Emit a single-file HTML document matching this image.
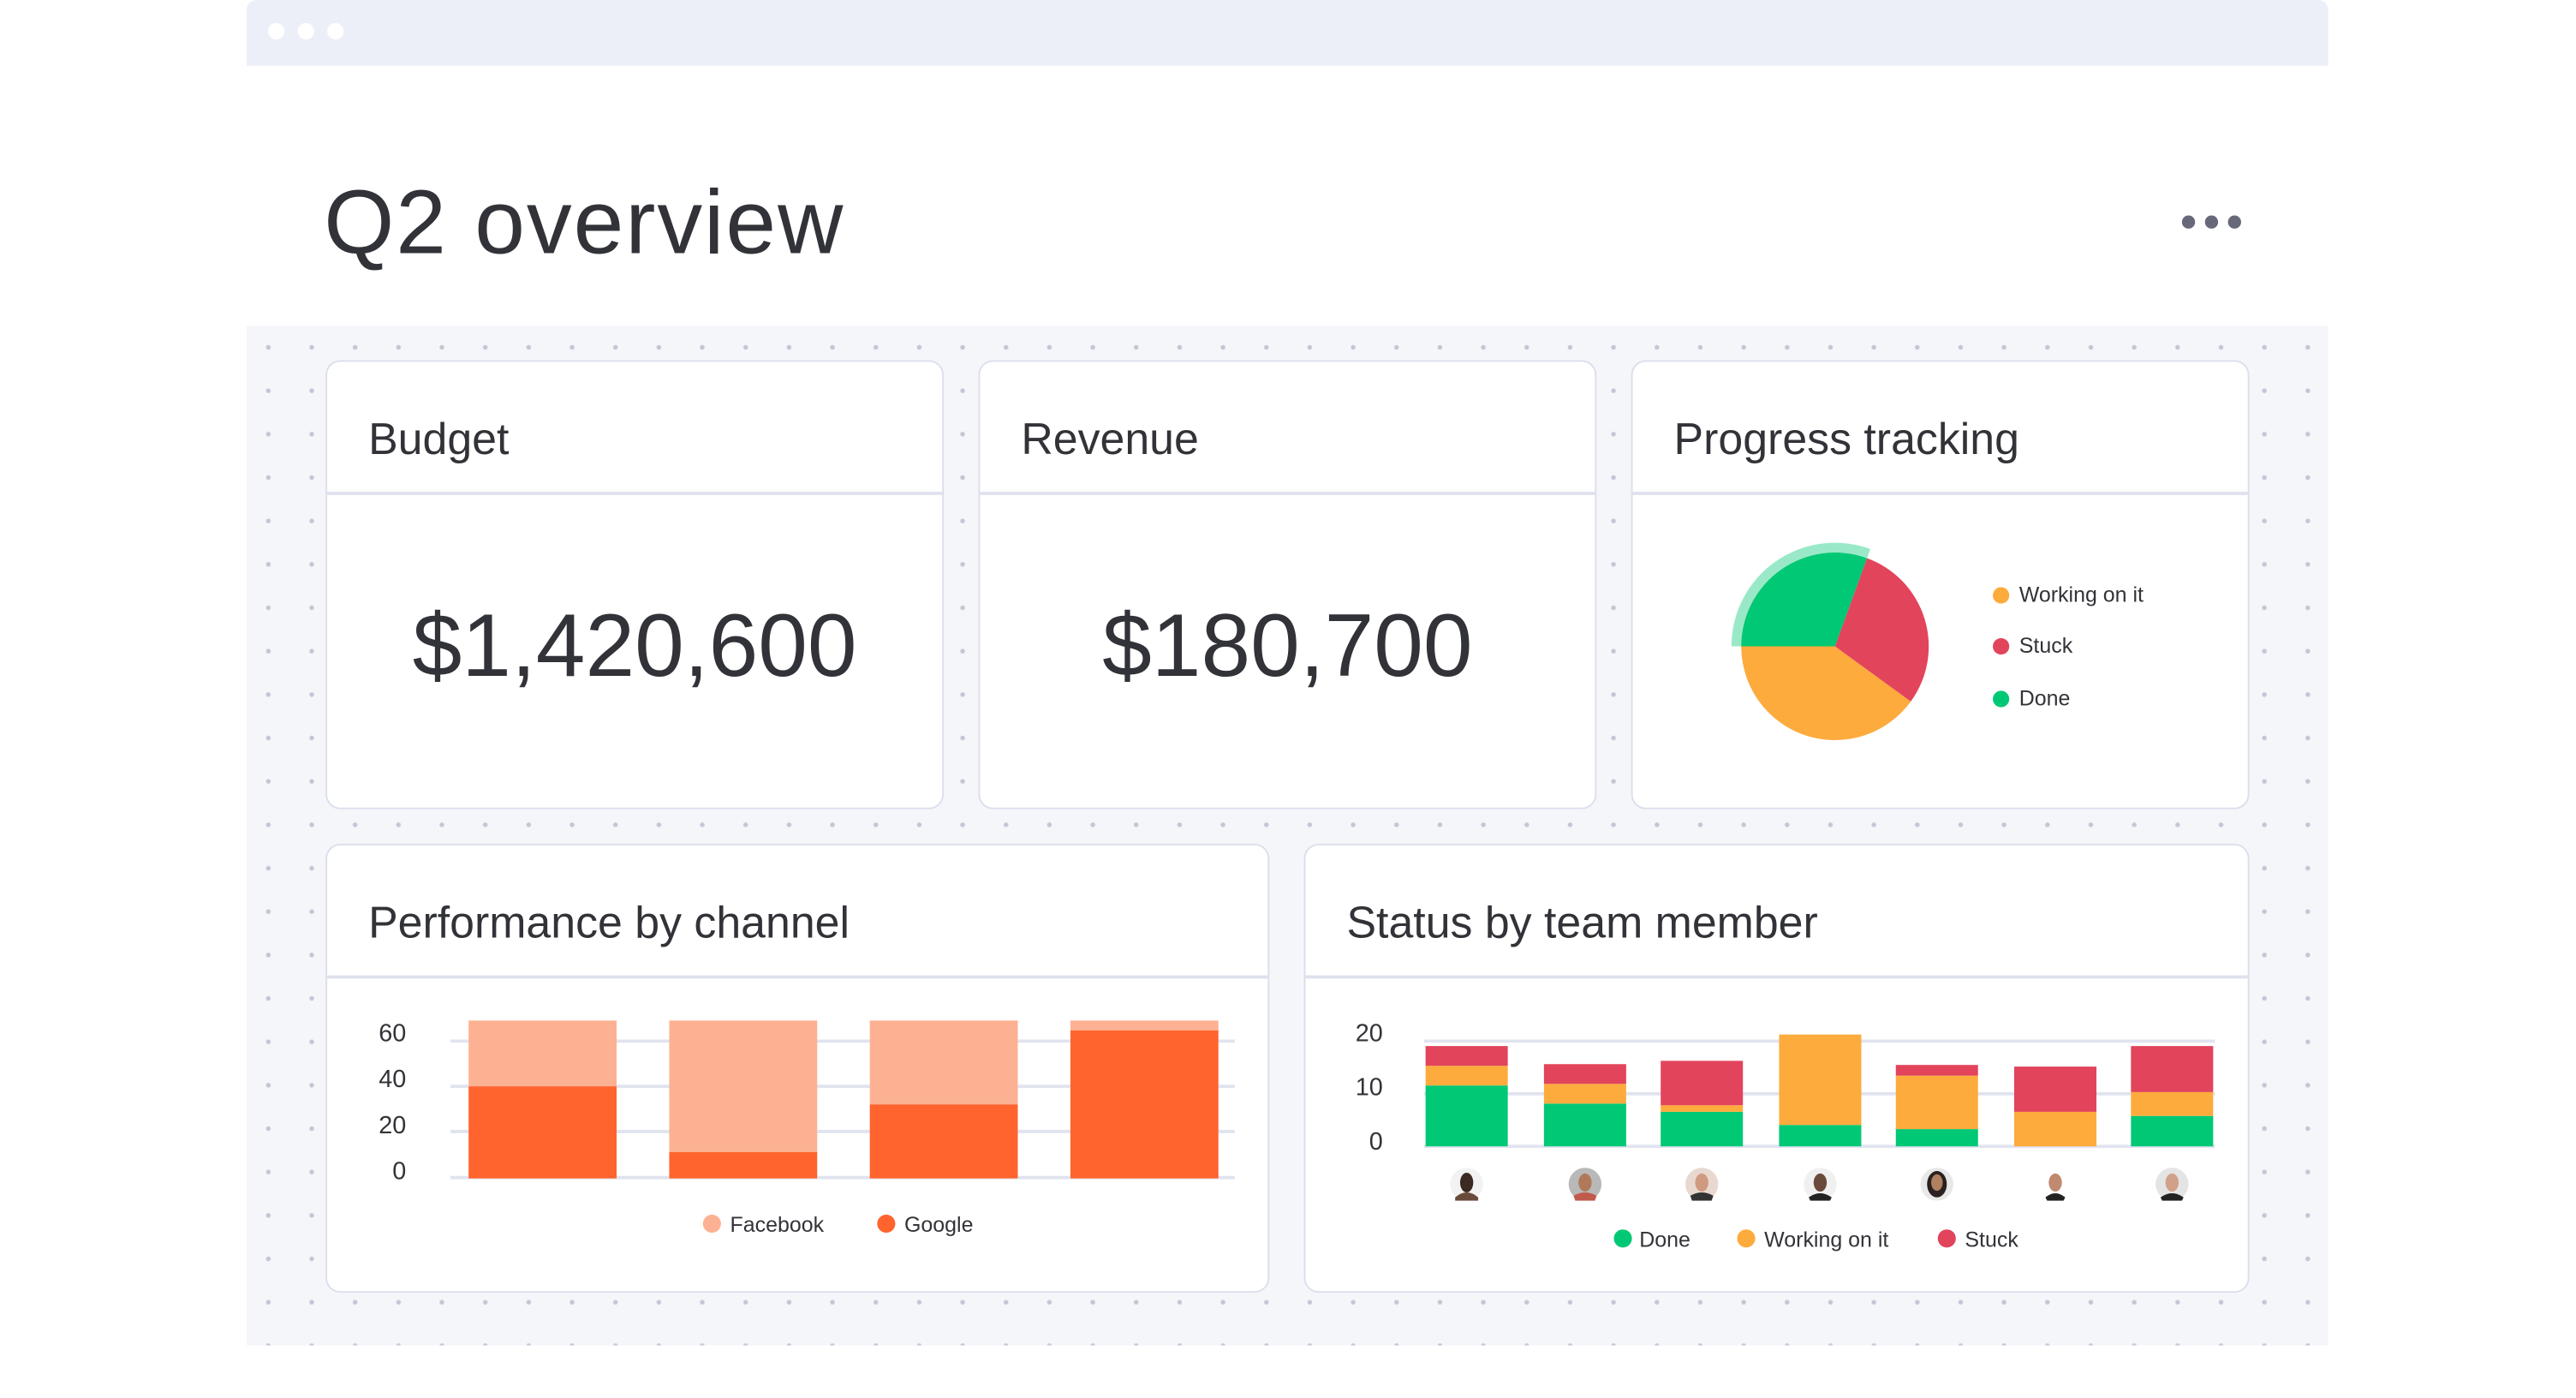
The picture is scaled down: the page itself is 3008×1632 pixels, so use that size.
<!DOCTYPE html>
<html><head><meta charset="utf-8">
<style>
html,body{margin:0;padding:0;background:#fff;}
body{width:3008px;height:1632px;overflow:hidden;position:relative;}
#s{position:absolute;left:0;top:0;width:1566.67px;height:850px;transform:scale(1.92);transform-origin:0 0;font-family:"Liberation Sans",sans-serif;color:#323338;}
.a{position:absolute;}
.card{position:absolute;background:#fff;border:1.5px solid #dcdfec;border-radius:9px;box-sizing:border-box;}
.hd{position:absolute;left:0;right:0;top:79px;height:1.5px;background:#dfe2ee;}
.ct{position:absolute;left:25px;top:32px;font-size:27px;color:#323338;}
.big{position:absolute;left:0;right:0;text-align:center;top:142px;font-size:54px;color:#323338;}
</style></head><body><div id="s">
<div class="a" style="left:150px;top:0;width:1266px;height:40px;background:#eceff8;border-radius:6px 6px 0 0"></div>
<div class="a" style="left:163px;top:14px;width:10px;height:10px;border-radius:50%;background:#fff"></div>
<div class="a" style="left:181px;top:14px;width:10px;height:10px;border-radius:50%;background:#fff"></div>
<div class="a" style="left:199px;top:14px;width:10px;height:10px;border-radius:50%;background:#fff"></div>
<div class="a" style="left:197px;top:103px;font-size:55px;letter-spacing:1px;color:#323338;">Q2 overview</div>
<div class="a" style="left:1327px;top:131px;width:8px;height:8px;border-radius:50%;background:#676879"></div>
<div class="a" style="left:1341px;top:131px;width:8px;height:8px;border-radius:50%;background:#676879"></div>
<div class="a" style="left:1355px;top:131px;width:8px;height:8px;border-radius:50%;background:#676879"></div>
<div class="a" style="left:150px;top:198px;width:1266px;height:620px;background-color:#f5f6fa;background-image:radial-gradient(circle,#c3c6d4 1.2px,transparent 1.6px);background-size:26.4px 26.4px;background-position:0px 0px;"></div>

<div class="card" style="left:198px;top:219px;width:376px;height:273px"><div class="ct">Budget</div><div class="hd"></div><div class="big">$1,420,600</div></div>
<div class="card" style="left:595px;top:219px;width:376px;height:273px"><div class="ct">Revenue</div><div class="hd"></div><div class="big">$180,700</div></div>
<div class="card" style="left:992px;top:219px;width:376px;height:273px"><div class="ct">Progress tracking</div><div class="hd"></div></div>
<svg class="a" style="left:0;top:0" width="1567" height="850" viewBox="0 0 1567 850">
<g transform="translate(1116,393)">
<path d="M0 0 L57 0 A57 57 0 0 1 -57 0 Z" transform="rotate(36)" fill="#fdab3d"/>
<path d="M0 0 L-57 0 A57 57 0 0 1 19.5 -53.6 Z" fill="#00c875"/>
<path d="M0 0 L19.5 -53.6 A57 57 0 0 1 46.1 33.5 Z" fill="#e2445c"/>
<path d="M-63 0 A63 63 0 0 1 21.5 -59.2 L19.5 -53.6 A57 57 0 0 0 -57 0 Z" fill="#00c875" opacity="0.4"/>
</g>
</svg>
<div class="a" style="left:1212px;top:357px;width:10px;height:10px;border-radius:50%;background:#fdab3d"></div>
<div class="a" style="left:1212px;top:388px;width:10px;height:10px;border-radius:50%;background:#e2445c"></div>
<div class="a" style="left:1212px;top:420px;width:10px;height:10px;border-radius:50%;background:#00c875"></div>
<div class="a" style="left:1228px;top:354px;font-size:13px">Working on it</div>
<div class="a" style="left:1228px;top:385px;font-size:13px">Stuck</div>
<div class="a" style="left:1228px;top:417px;font-size:13px">Done</div>

<div class="card" style="left:198px;top:513px;width:574px;height:273px"><div class="ct">Performance by channel</div><div class="hd"></div></div>
<div class="card" style="left:793px;top:513px;width:575px;height:273px"><div class="ct">Status by team member</div><div class="hd"></div></div>

<svg class="a" style="left:0;top:0" width="1567" height="850" viewBox="0 0 1567 850" font-family="Liberation Sans, sans-serif" fill="#323338">
<g stroke="#e1e4ef" stroke-width="2">
<line x1="274" y1="633" x2="751" y2="633"/><line x1="274" y1="660.5" x2="751" y2="660.5"/><line x1="274" y1="688" x2="751" y2="688"/><line x1="274" y1="716" x2="751" y2="716"/>
<line x1="866" y1="633" x2="1347" y2="633"/><line x1="866" y1="665" x2="1347" y2="665"/><line x1="866" y1="697" x2="1347" y2="697"/>
</g>
<g font-size="15" text-anchor="end">
<text x="247" y="633">60</text><text x="247" y="661">40</text><text x="247" y="689">20</text><text x="247" y="717">0</text>
<text x="841" y="633">20</text><text x="841" y="666">10</text><text x="841" y="699">0</text>
</g>
<g fill="#fdb193">
<rect x="285" y="620.5" width="90" height="40"/><rect x="407" y="620.5" width="90" height="80"/><rect x="529" y="620.5" width="90" height="51"/><rect x="651" y="620.5" width="90" height="6"/>
</g>
<g fill="#ff642e">
<rect x="285" y="660.5" width="90" height="56"/><rect x="407" y="700.5" width="90" height="16"/><rect x="529" y="671.5" width="90" height="45"/><rect x="651" y="626.5" width="90" height="90"/>
</g>
<circle cx="433" cy="744" r="5.5" fill="#fdb193"/><text x="444" y="749" font-size="13">Facebook</text>
<circle cx="539" cy="744" r="5.5" fill="#ff642e"/><text x="550" y="749" font-size="13">Google</text>

<g>
<rect x="867" y="660" width="50" height="37" fill="#00c875"/><rect x="867" y="648" width="50" height="12" fill="#fdab3d"/><rect x="867" y="636" width="50" height="12" fill="#e2445c"/>
<rect x="939" y="671" width="50" height="26" fill="#00c875"/><rect x="939" y="659" width="50" height="12" fill="#fdab3d"/><rect x="939" y="647" width="50" height="12" fill="#e2445c"/>
<rect x="1010" y="676" width="50" height="21" fill="#00c875"/><rect x="1010" y="672" width="50" height="4" fill="#fdab3d"/><rect x="1010" y="645" width="50" height="27" fill="#e2445c"/>
<rect x="1082" y="684" width="50" height="13" fill="#00c875"/><rect x="1082" y="629" width="50" height="55" fill="#fdab3d"/>
<rect x="1153" y="686.5" width="50" height="10.5" fill="#00c875"/><rect x="1153" y="654" width="50" height="32.5" fill="#fdab3d"/><rect x="1153" y="647.5" width="50" height="6.5" fill="#e2445c"/>
<rect x="1225" y="676" width="50" height="21" fill="#fdab3d"/><rect x="1225" y="648.5" width="50" height="27.5" fill="#e2445c"/>
<rect x="1296" y="678.5" width="50" height="18.5" fill="#00c875"/><rect x="1296" y="664" width="50" height="14.5" fill="#fdab3d"/><rect x="1296" y="636" width="50" height="28" fill="#e2445c"/>
</g>
<g>
<g transform="translate(892,720)"><circle r="10" fill="#f2f2f2"/><ellipse cx="0" cy="-1" rx="4" ry="6" fill="#3a2a22"/><path d="M-7 8 Q0 2 7 8 L7 10 L-7 10Z" fill="#6a4a3a"/></g>
<g transform="translate(964,720)"><circle r="10" fill="#b9b9b9"/><ellipse cx="0" cy="-1" rx="4" ry="5.5" fill="#b07a5a"/><path d="M-7 7 Q0 3 7 7 L6 10 L-6 10Z" fill="#c05a4a"/></g>
<g transform="translate(1035,720)"><circle r="10" fill="#e8d8d0"/><ellipse cx="0" cy="-1" rx="4" ry="5.5" fill="#d09a80"/><path d="M-7 7 Q0 3 7 7 L6 10 L-6 10Z" fill="#333"/></g>
<g transform="translate(1107,720)"><circle r="10" fill="#f0f0f0"/><ellipse cx="0" cy="-1" rx="4" ry="5.5" fill="#6a4a3a"/><path d="M-7 8 Q0 3 7 8 L6 10 L-6 10Z" fill="#222"/></g>
<g transform="translate(1178,720)"><circle r="10" fill="#e8e8e8"/><ellipse cx="0" cy="0" rx="6" ry="8" fill="#2a2220"/><ellipse cx="0" cy="-1" rx="3.5" ry="5" fill="#b08060"/></g>
<g transform="translate(1250,720)"><circle r="10" fill="#fff"/><ellipse cx="0" cy="-1" rx="4" ry="5.5" fill="#c08a70"/><path d="M-6 8 Q0 3 6 8 L5 10 L-5 10Z" fill="#222"/></g>
<g transform="translate(1321,720)"><circle r="10" fill="#e4e4e4"/><ellipse cx="0" cy="-1" rx="4" ry="5.5" fill="#d0a088"/><path d="M-7 8 Q0 3 7 8 L6 10 L-6 10Z" fill="#222"/></g>
</g>
<circle cx="987" cy="753" r="5.5" fill="#00c875"/><text x="997" y="758" font-size="13">Done</text>
<circle cx="1062" cy="753" r="5.5" fill="#fdab3d"/><text x="1073" y="758" font-size="13">Working on it</text>
<circle cx="1184" cy="753" r="5.5" fill="#e2445c"/><text x="1195" y="758" font-size="13">Stuck</text>
</svg>
</div></body></html>
